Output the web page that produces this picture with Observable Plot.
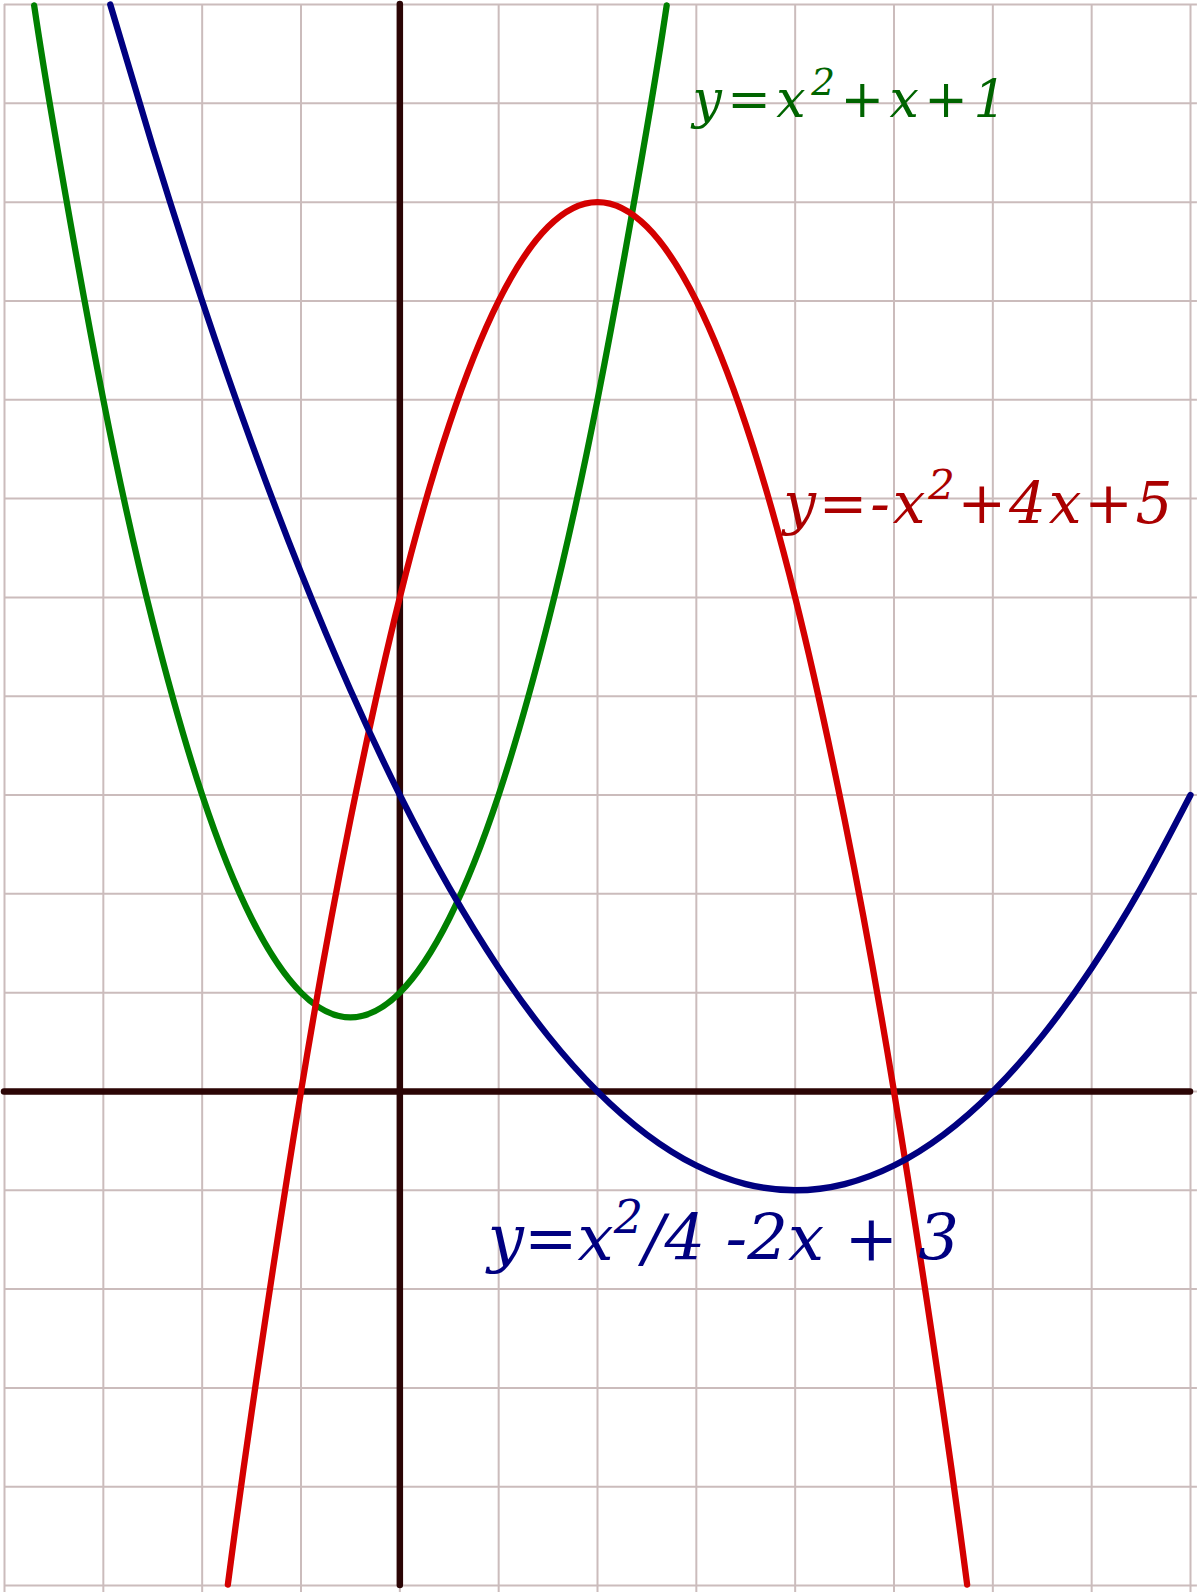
<!DOCTYPE html>
<html>
<head>
<meta charset="utf-8">
<script src="https://cdn.jsdelivr.net/npm/d3@7"></script>
<script src="https://cdn.jsdelivr.net/npm/@observablehq/plot@0.6"></script>
<style>
  html, body { margin: 0; padding: 0; background: #fff; }
  #chart svg { display: block; }
</style>
</head>
<body>
<div id="chart"></div>
<script>
// Grid ticks
const gridX = [-4, -3, -2, -1, 0, 1, 2, 3, 4, 5, 6, 7, 8];
const gridY = [-5, -4, -3, -2, -1, 0, 1, 2, 3, 4, 5, 6, 7, 8, 9, 10, 11];

// Green curve y = x^2 + x + 1
const greenX = [-3.7, -3.5, -3, -2.5, -2, -1.5, -1, -0.5, 0, 0.5, 1, 1.5, 2, 2.5, 2.7];
const greenY = [10.99, 9.75, 7, 4.75, 3, 1.75, 1, 0.75, 1, 1.75, 3, 4.75, 7, 9.75, 10.99];

// Red curve y = -x^2 + 4x + 5
const redX = [-1.74, -1.5, -1, -0.5, 0, 0.5, 1, 1.5, 2, 2.5, 3, 3.5, 4, 4.5, 5, 5.5, 5.74];
const redY = [-4.99, -3.25, 0, 2.75, 5, 6.75, 8, 8.75, 9, 8.75, 8, 6.75, 5, 2.75, 0, -3.25, -4.99];

// Blue curve y = x^2/4 - 2x + 3
const blueX = [-2.93, -2.5, -2, -1.5, -1, -0.5, 0, 0.5, 1, 1.5, 2, 2.5, 3, 3.5, 4, 4.5, 5, 5.5, 6, 6.5, 7, 7.5, 8];
const blueY = [11.0, 9.5625, 8, 6.5625, 5.25, 4.0625, 3, 2.0625, 1.25, 0.5625, 0, -0.4375, -0.75, -0.9375, -1, -0.9375, -0.75, -0.4375, 0, 0.5625, 1.25, 2.0625, 3];

// Labels
const labelText = ["y=x²+x+1", "y=-x²+4x+5", "y=x²/4 -2x + 3"];
const labelX = [2.96, 3.88, 0.89];
const labelY = [10.03, 5.94, -1.5];
const labelSize = [52, 58, 64];
const labelSpacing = [5.5, 2.8, 0];
const labelColor = ["#006400", "#aa0000", "#000080"];

const toPts = (xs, ys) => xs.map((x, i) => ({x, y: ys[i]}));
const green = toPts(greenX, greenY);
const red = toPts(redX, redY);
const blue = toPts(blueX, blueY);
const labels = labelText.map((t, i) => ({t, x: labelX[i], y: labelY[i], s: labelSize[i], ls: labelSpacing[i], c: labelColor[i]}));

const chart = Plot.plot({
  width: 1200,
  height: 1595,
  marginTop: 4,
  marginLeft: 4,
  marginRight: 10,
  marginBottom: 10,
  x: {domain: [-4, 8], axis: null},
  y: {domain: [-5, 11], axis: null},
  marks: [
    Plot.ruleX(gridX, {x: d => d, y1: -5.07, y2: 11, stroke: "#cbbcbc", strokeWidth: 2}),
    Plot.ruleY(gridY, {y: d => d, x1: -4, x2: 8.07, stroke: "#cbbcbc", strokeWidth: 2}),
    Plot.ruleY([0], {x1: -4, x2: 8, stroke: "#2b0505", strokeWidth: 6.5, strokeLinecap: "round"}),
    Plot.ruleX([0], {y1: -5, y2: 11, stroke: "#2b0505", strokeWidth: 6.5, strokeLinecap: "round"}),
    Plot.line(green, {x: "x", y: "y", curve: "natural", stroke: "#008000", strokeWidth: 6.3, strokeLinecap: "round"}),
    Plot.line(red, {x: "x", y: "y", curve: "natural", stroke: "#d40000", strokeWidth: 6.3, strokeLinecap: "round"}),
    Plot.line(blue, {x: "x", y: "y", curve: "natural", stroke: "#000080", strokeWidth: 6.3, strokeLinecap: "round"}),
    ...labels.map(l => Plot.text([l], {
      x: "x", y: "y", text: "t", fill: l.c, fontSize: l.s,
      textAnchor: "start", lineAnchor: "middle",
      fontFamily: "DejaVu Serif", fontStyle: "italic"
    }))
  ]
});

// Render the superscript "2" as a raised, larger digit and apply letter spacing
d3.select(chart).selectAll("text").each(function () {
  const el = d3.select(this);
  const content = el.text();
  const lab = labels.find(l => l.t === content);
  if (!lab) return;
  el.attr("letter-spacing", lab.ls);
  const parts = content.split("²");
  el.text(null);
  const rise = lab.s * 0.42;
  parts.forEach((p, i) => {
    if (i > 0) {
      el.append("tspan").attr("dy", -rise).attr("font-size", lab.s * 0.72).text("2");
      el.append("tspan").attr("dy", rise).text(p);
    } else {
      el.append("tspan").text(p);
    }
  });
});

document.getElementById("chart").appendChild(chart);
</script>
</body>
</html>
